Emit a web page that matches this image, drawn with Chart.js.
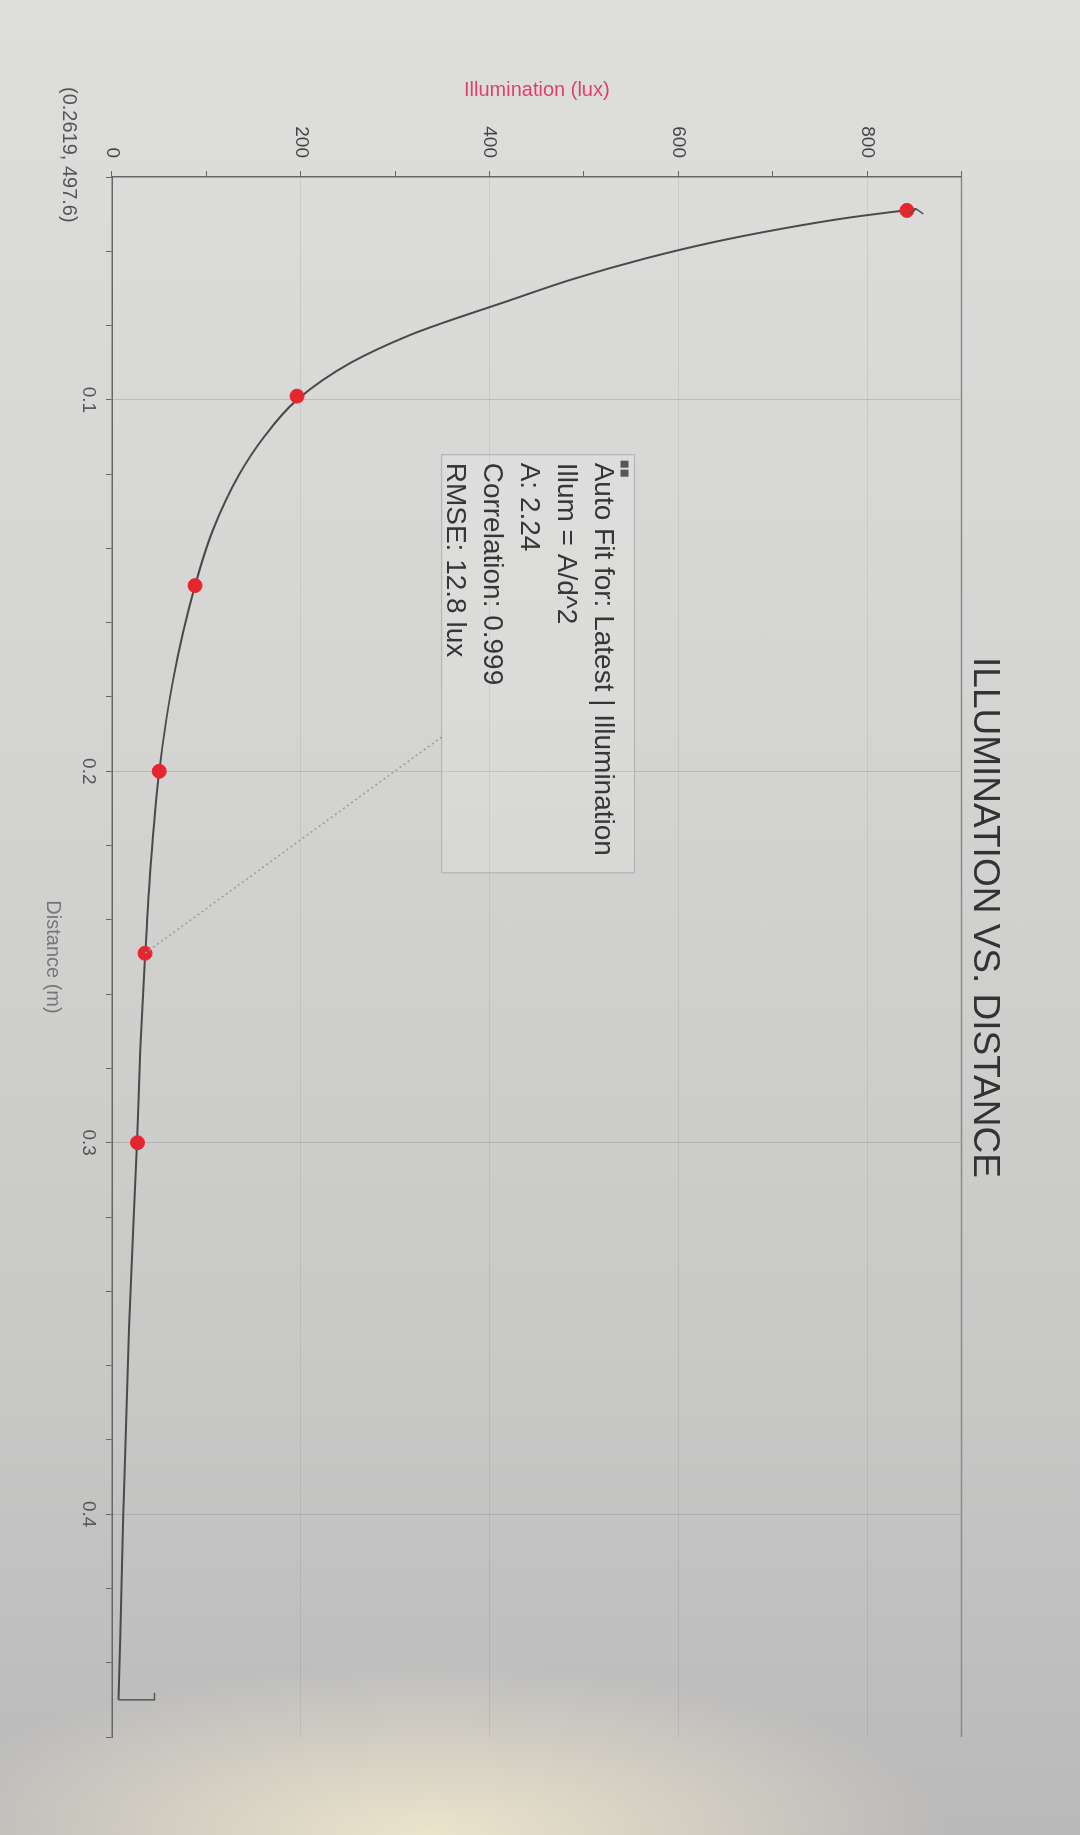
<!DOCTYPE html>
<html>
<head>
<meta charset="utf-8">
<script src="https://cdn.jsdelivr.net/npm/chart.js@4.4.1/dist/chart.umd.min.js"></script>
<style>
html, body { margin:0; padding:0; width:1080px; height:1835px; overflow:hidden; }
body {
  background:
    radial-gradient(ellipse 520px 170px at 430px 1835px, rgba(238,230,204,0.95), rgba(238,230,204,0) 100%),
    linear-gradient(to bottom, #dedfdd 0%, #d4d5d3 40%, #c8c8c7 75%, #bab9b9 100%);
}
#wrap { position:absolute; left:0; top:0; width:1835px; height:1080px;
        transform-origin:0 0; transform:translate(1080px,0) rotate(90deg); }
canvas { display:block; }
</style>
</head>
<body>
<div id="wrap"><canvas id="c" width="1835" height="1080" style="width:1835px;height:1080px"></canvas></div>
<script>
// ---- data ----
const distance      = [0.049, 0.099, 0.150, 0.200, 0.249, 0.300];     // m
const illumination  = [842, 196, 88, 50, 35, 27];                      // lux
const fitDistance     = [0.0486, 0.051, 0.054, 0.0575, 0.062, 0.0675, 0.0735, 0.0795, 0.0825, 0.09, 0.1, 0.11, 0.12, 0.135, 0.15, 0.175, 0.2, 0.225, 0.25, 0.275, 0.3, 0.35, 0.4, 0.45];
const fitIllumination = [852, 779, 708, 638, 564, 488, 418, 348, 316, 253, 196, 161, 135, 107, 88, 65, 50, 41, 35, 30, 26.5, 18, 12, 7];
const xRange = [0.04, 0.46];
const yRange = [0, 900];
const titleText = 'ILLUMINATION VS. DISTANCE';
const xTitle = 'Distance (m)';
const yTitle = 'Illumination (lux)';
const fitBoxLines = ['Auto Fit for: Latest | Illumination', 'Illum = A/d^2', 'A: 2.24', 'Correlation: 0.999', 'RMSE: 12.8 lux'];
const fitBoxPointIndex = 4;
const readoutText = '(0.2619, 497.6)';

const FONT = "'Liberation Sans', Arial, sans-serif";
const isMajorX = v => Math.abs(v * 10 - Math.round(v * 10)) < 1e-6;
const isMajorY = v => Math.abs(v / 200 - Math.round(v / 200)) < 1e-6;

const extras = {
  id: 'extras',
  afterDatasetsDraw(chart) {
    const { ctx, chartArea: a, scales: { x, y } } = chart;
    ctx.save();
    // top frame line
    ctx.strokeStyle = '#8a8a8a';
    ctx.lineWidth = 1.5;
    ctx.beginPath();
    ctx.moveTo(a.left, a.top); ctx.lineTo(a.right, a.top);
    ctx.stroke();

    // fit range brackets
    ctx.strokeStyle = '#555';
    ctx.lineWidth = 1.5;
    const n = fitDistance.length - 1;
    const ex = x.getPixelForValue(fitDistance[n]);
    const ey = y.getPixelForValue(fitIllumination[n]);
    ctx.beginPath();
    ctx.moveTo(ex, ey); ctx.lineTo(ex, ey - 36); ctx.lineTo(ex - 7, ey - 36);
    ctx.stroke();
    const sx = x.getPixelForValue(fitDistance[0]);
    const sy = y.getPixelForValue(fitIllumination[0]);
    ctx.beginPath();
    ctx.moveTo(sx + 5, sy - 7); ctx.lineTo(sx, sy); ctx.lineTo(sx + 5, sy + 7);
    ctx.stroke();

    // fit info box
    const w = a.right - a.left, h = a.bottom - a.top;
    const bl = a.left + 0.178 * w, br = a.left + 0.446 * w;
    const bt = a.top + 0.385 * h, bb = a.top + 0.612 * h;
    const anchorX = a.left + 0.359 * w;
    ctx.fillStyle = 'rgba(255,255,255,0.14)';
    ctx.fillRect(bl, bt, br - bl, bb - bt);
    ctx.strokeStyle = '#b4b4b4';
    ctx.lineWidth = 1.2;
    ctx.strokeRect(bl, bt, br - bl, bb - bt);
    // small icon
    ctx.fillStyle = '#555';
    ctx.fillRect(bl + 6, bt + 6, 7, 8);
    ctx.fillRect(bl + 15, bt + 6, 7, 8);
    // text
    ctx.fillStyle = '#363636';
    ctx.font = '28px ' + FONT;
    ctx.textBaseline = 'middle';
    ctx.textAlign = 'left';
    fitBoxLines.forEach((t, i) => ctx.fillText(t, bl + 8, bt + 32 + i * 37));
    // dotted leader to a data point
    const px = x.getPixelForValue(distance[fitBoxPointIndex]);
    const py = y.getPixelForValue(illumination[fitBoxPointIndex]);
    ctx.strokeStyle = '#9a9a9a';
    ctx.lineWidth = 1.5;
    ctx.setLineDash([2, 3]);
    ctx.beginPath();
    ctx.moveTo(anchorX, bb); ctx.lineTo(px, py);
    ctx.stroke();
    ctx.setLineDash([]);
    ctx.restore();
  },
  afterDraw(chart) {
    const { ctx } = chart;
    ctx.save();
    ctx.fillStyle = '#555';
    ctx.font = '20px ' + FONT;
    ctx.textAlign = 'left';
    ctx.textBaseline = 'middle';
    ctx.fillText(readoutText, 87, 1011);
    ctx.restore();
  }
};

new Chart(document.getElementById('c'), {
  type: 'scatter',
  data: {
    datasets: [
      {
        label: 'Illumination',
        data: distance.map((d, i) => ({ x: d, y: illumination[i] })),
        backgroundColor: '#e6262f',
        borderColor: '#e6262f',
        pointRadius: 7,
        showLine: false,
        order: 0
      },
      {
        label: 'Fit',
        data: fitDistance.map((d, i) => ({ x: d, y: fitIllumination[i] })),
        showLine: true,
        borderColor: '#4a4a4a',
        borderWidth: 2,
        pointRadius: 0,
        cubicInterpolationMode: 'monotone',
        order: 1
      }
    ]
  },
  options: {
    responsive: false,
    devicePixelRatio: 1,
    animation: false,
    layout: { padding: 0 },
    plugins: {
      legend: { display: false },
      tooltip: { enabled: false },
      title: {
        display: true,
        text: titleText,
        color: '#333',
        font: { family: FONT, size: 37, weight: 'normal', lineHeight: 1.2 },
        padding: { top: 74, bottom: 0 }
      }
    },
    scales: {
      x: {
        type: 'linear',
        position: 'bottom',
        min: xRange[0], max: xRange[1],
        afterFit: s => { s.height = 112; },
        ticks: {
          stepSize: 0.02,
          autoSkip: false,
          maxRotation: 0,
          padding: 6,
          color: '#555',
          font: { family: FONT, size: 19 },
          callback: v => isMajorX(v) ? (Math.round(v * 10) / 10).toFixed(1) : ''
        },
        grid: {
          color: c => (c.tick && isMajorX(c.tick.value)) ? 'rgba(0,0,0,0.12)' : 'rgba(0,0,0,0)',
          tickColor: '#666',
          tickLength: 6,
          lineWidth: 1
        },
        border: { color: '#666', width: 1.5 },
        title: {
          display: true, text: xTitle, color: '#777',
          font: { family: FONT, size: 20, lineHeight: 1.2 },
          padding: { top: 0, bottom: 41 }
        }
      },
      y: {
        type: 'linear',
        position: 'left',
        min: yRange[0], max: yRange[1],
        afterFit: s => { s.width = 177; },
        ticks: {
          stepSize: 100,
          autoSkip: false,
          padding: 13,
          color: '#444',
          font: { family: FONT, size: 19 },
          callback: v => isMajorY(v) ? String(v) : ''
        },
        grid: {
          color: c => (c.tick && isMajorY(c.tick.value) && c.tick.value > 0) ? 'rgba(0,0,0,0.07)' : 'rgba(0,0,0,0)',
          tickColor: '#666',
          tickLength: 6,
          lineWidth: 1
        },
        border: { color: '#666', width: 1.5 },
        title: {
          display: true, text: yTitle, color: '#e0406c',
          font: { family: FONT, size: 20, lineHeight: 1.2 },
          padding: { top: 78, bottom: 0 }
        }
      },
      yRight: {
        type: 'linear',
        position: 'right',
        display: true,
        afterFit: s => { s.width = 98; },
        ticks: { display: false },
        grid: { display: false, drawTicks: false },
        border: { display: false }
      }
    }
  },
  plugins: [extras]
});
</script>
</body>
</html>
